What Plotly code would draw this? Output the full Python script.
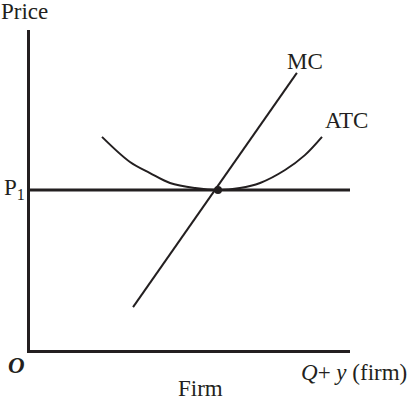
import plotly.graph_objects as go

# Data (in chart units: x quantity 0..10, y price 0..10)
mc_x = [3.22, 8.34]
mc_y = [1.34, 8.66]

atc_x = [2.25, 3.125, 3.75, 4.375, 5.16, 5.875, 6.56, 7.19, 7.97, 8.59, 9.125]
atc_y = [6.66, 5.875, 5.53, 5.22, 5.06, 5.0, 5.06, 5.22, 5.625, 6.09, 6.66]

p1_price = 5.0
p1_x = [0, 10]
eq_x = [5.875]
eq_y = [5.0]

INK = "#231f20"
FONT = "Liberation Serif, Times New Roman, serif"

fig = go.Figure()
fig.add_trace(go.Scatter(x=p1_x, y=[p1_price, p1_price], mode="lines",
                         line=dict(color=INK, width=3), hoverinfo="skip"))
fig.add_trace(go.Scatter(x=atc_x, y=atc_y, mode="lines",
                         line=dict(color=INK, width=2, shape="spline"), hoverinfo="skip"))
fig.add_trace(go.Scatter(x=mc_x, y=mc_y, mode="lines",
                         line=dict(color=INK, width=2), hoverinfo="skip"))
fig.add_trace(go.Scatter(x=eq_x, y=eq_y, mode="markers",
                         marker=dict(color=INK, size=8), hoverinfo="skip"))

L, R, T, B = 30, 60, 30, 49
W, H = 410, 399
pw, ph = W - L - R, H - T - B


def px(xp, yp):
    return (xp - L) / pw, (H - B - yp) / ph


def label(text, xp, yp, size=23, **kw):
    x, y = px(xp, yp)
    fig.add_annotation(x=x, y=y, xref="paper", yref="paper", text=text,
                       showarrow=False, xanchor="center", yanchor="middle",
                       font=dict(family=FONT, size=size, color=INK), **kw)


label("Price", 24, 11)
label("P<sub>1</sub>", 14, 189)
label("<b><i>O</i></b>", 16, 365)
label("MC", 305, 62)
label("ATC", 346, 120)
label("<i>Q</i>+ <i>y</i> (firm)", 354, 372)
label("Firm", 200, 388)

fig.update_layout(
    width=W, height=H,
    margin=dict(l=L, r=R, t=T, b=B),
    paper_bgcolor="white", plot_bgcolor="white",
    showlegend=False,
    xaxis=dict(range=[0, 10], showgrid=False, zeroline=False, showticklabels=False,
               ticks="", showline=True, linecolor=INK, linewidth=3),
    yaxis=dict(range=[0, 10], showgrid=False, zeroline=False, showticklabels=False,
               ticks="", showline=True, linecolor=INK, linewidth=3),
)

fig.write_html("out.html", post_script="document.body.style.margin='0';",
               config={"displayModeBar": False})
